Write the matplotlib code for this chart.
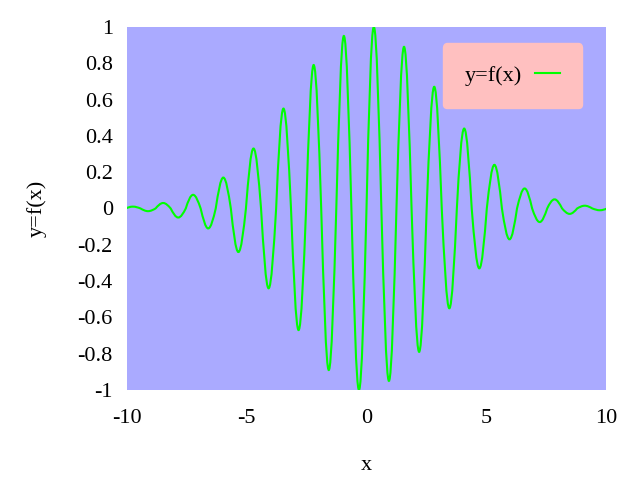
import numpy as np
import matplotlib.pyplot as plt
from matplotlib.path import Path
from matplotlib.patches import PathPatch

plt.rcParams['font.family'] = ['Liberation Serif', 'DejaVu Serif']
plt.rcParams['axes.unicode_minus'] = False

# extrema (right half; left half mirrors with sign flipped)
peak_x_right = [0.31, 0.94, 1.57, 2.20, 2.83, 3.46, 4.08, 4.71, 5.34, 5.97, 6.60, 7.23, 7.85, 8.48, 9.11, 9.74]
peak_y_right = [1.00, -0.95, 0.89, -0.79, 0.67, -0.55, 0.44, -0.33, 0.24, -0.17, 0.11, -0.075, 0.05, -0.03, 0.015, -0.01]
edge_y = 0.005  # value at x=10

peak_x = [-v for v in peak_x_right[::-1]] + peak_x_right
peak_y = [-v for v in peak_y_right[::-1]] + peak_y_right

fig = plt.figure(figsize=(6.4, 4.8), dpi=100)
ax = fig.add_axes([0.198, 0.1875, 0.749, 0.7565])
ax.set_facecolor('#aaaaff')

# smooth path: quarter-sine bezier segments zero -> peak -> zero
verts = [(-10, -edge_y)]
codes = [Path.MOVETO]
for i, (px, py) in enumerate(zip(peak_x, peak_y)):
    h = 0.314
    z0 = px - h
    z1 = px + h
    if i == 0:
        verts.append((z0, 0)); codes.append(Path.LINETO)
    verts += [(z0 + 0.3263 * h, 0.5126 * py), (px - 0.362 * h, py), (px, py)]
    codes += [Path.CURVE4] * 3
    verts += [(px + 0.362 * h, py), (z1 - 0.3263 * h, 0.5126 * py), (z1, 0)]
    codes += [Path.CURVE4] * 3
verts.append((10, edge_y)); codes.append(Path.LINETO)
ax.add_patch(PathPatch(Path(verts, codes), fill=False, edgecolor='#00ff00', lw=1.5))
ax.plot([], [], color='#00ff00', lw=1.5, label='y=f(x)')

ax.set_xlim(-10, 10)
ax.set_ylim(-1, 1)
ax.set_xticks([-10, -5, 0, 5, 10])
ax.set_yticks(np.round(np.arange(-1, 1.01, 0.2), 1))
ax.set_yticklabels(['-1', '-0.8', '-0.6', '-0.4', '-0.2', '0', '0.2', '0.4', '0.6', '0.8', '1'])
ax.tick_params(axis='both', labelsize=16, length=0)
ax.tick_params(axis='x', pad=14)
ax.tick_params(axis='y', pad=10)
for s in ax.spines.values():
    s.set_visible(False)
ax.set_xlabel('x', fontsize=16, labelpad=20)
ax.set_ylabel('y=f(x)', fontsize=16, labelpad=22)

leg = ax.legend(loc='upper right', bbox_to_anchor=(0.95, 0.955), markerfirst=False,
                fontsize=16, facecolor='#ffc0c0', edgecolor='#ffc0c0', framealpha=1,
                fancybox=True, borderpad=1.0, handlelength=1.1, handletextpad=0.6,
                borderaxespad=0)

fig.savefig('out.png')
